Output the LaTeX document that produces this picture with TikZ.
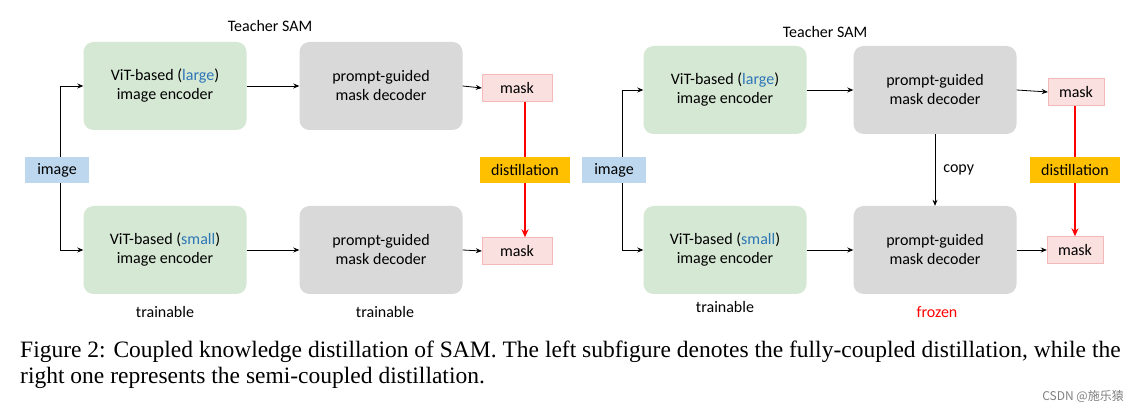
\documentclass[tikz,border=0pt]{standalone}
\usepackage{fontspec}
\setmainfont{Carlito}
\newfontfamily\capfont{Liberation Serif}
\newfontfamily\cjk{Noto Sans CJK SC}
\usetikzlibrary{arrows.meta}
\definecolor{gfill}{HTML}{D5E8D4}
\definecolor{kfill}{HTML}{D9D9D9}
\definecolor{mfill}{HTML}{FBE0E0}
\definecolor{mborder}{HTML}{F4B8B8}
\definecolor{ifill}{HTML}{BDD7EE}
\definecolor{dfill}{HTML}{FFC000}
\definecolor{bluet}{HTML}{2E75B6}
\definecolor{redarr}{HTML}{FF0000}
\begin{document}
\begin{tikzpicture}[x=1pt,y=-1pt,
  every node/.style={font=\fontsize{16}{19}\selectfont, align=center, inner sep=0pt},
  enc/.style={fill=gfill, rounded corners=10pt, minimum width=163pt, minimum height=88pt},
  dec/.style={fill=kfill, rounded corners=10pt, minimum width=163pt, minimum height=88pt},
  mask/.style={fill=mfill, draw=mborder, minimum width=70pt, minimum height=27pt},
  img/.style={fill=ifill, minimum width=64pt, minimum height=26pt},
  dist/.style={fill=dfill, minimum width=90pt, minimum height=26pt},
  arr/.style={-{Stealth[length=6pt,width=5pt]}, line width=0.8pt},
  rarr/.style={draw=redarr, -{Stealth[length=8pt,width=7pt,fill=redarr]}, line width=1.3pt}]
\useasboundingbox (0,0) rectangle (1138,411);
\fill[white] (0,0) rectangle (1138,411);
% left
\node at (270,26) {Teacher SAM};
\node[img] (imgL) at (57,170) {image};
\node[enc] (e1) at (165,86) {ViT-based (\textcolor{bluet}{large})\\image encoder};
\node[dec] (d1) at (381,86) {prompt-guided\\mask decoder};
\node[mask] (m1) at (517,88) {mask};
\node[enc] (e2) at (165,250) {ViT-based (\textcolor{bluet}{small})\\image encoder};
\node[dec] (d2) at (381,250) {prompt-guided\\mask decoder};
\node[mask] (m2) at (517,251) {mask};
\node[dist] (dL) at (525,170) {distillation};
\node at (165,312) {trainable};
\node at (385,312) {trainable};
\coordinate (jL) at (60,170);
\draw[arr] (imgL.north -| jL) |- (e1.west);
\draw[arr] (imgL.south -| jL) |- (e2.west);
\draw[arr] (e1) -- (d1);
\draw[arr] (e2) -- (d2);
\draw[arr] (d1.east) -- (m1.west);
\draw[arr] (d2.east) -- (m2.west);
\draw[rarr] (m1.south -| dL) -- (m2.north -| dL);
\node[dist] at (525,170) {distillation};
% right
\node at (825,32) {Teacher SAM};
\node[img] (imgR) at (614,170) {image};
\node[enc] (e3) at (725,90) {ViT-based (\textcolor{bluet}{large})\\image encoder};
\node[dec] (d3) at (935,90) {prompt-guided\\mask decoder};
\node[mask, minimum width=56pt] (m3) at (1076,92) {mask};
\node[enc] (e4) at (725,250) {ViT-based (\textcolor{bluet}{small})\\image encoder};
\node[dec] (d4) at (935,250) {prompt-guided\\mask decoder};
\node[mask, minimum width=56pt] (m4) at (1075,250) {mask};
\node[dist] (dR) at (1075,170) {distillation};
\node at (725,307) {trainable};
\node[red] at (937,312) {frozen};
\coordinate (jR) at (622,170);
\draw[arr] (imgR.north -| jR) |- (e3.west);
\draw[arr] (imgR.south -| jR) |- (e4.west);
\draw[arr] (e3) -- (d3);
\draw[arr] (e4) -- (d4);
\draw[arr] (d3.east) -- (m3.west);
\draw[arr] (d4.east) -- (m4.west);
\draw[arr] (d3) -- node[right=8pt]{copy} (d4);
\draw[rarr] (m3.south -| dR) -- (m4.north -| dR);
\node[dist] at (1075,170) {distillation};
% caption
\node[anchor=west, align=left, font=\capfont\fontsize{23.5}{26}\selectfont] (cap) at (20,365)
 {Figure 2: Coupled knowledge distillation of SAM. The left subfigure denotes the fully-coupled distillation, while the\\right one represents the semi-coupled distillation.};
\node[anchor=east, font=\cjk\fontsize{12}{14}\selectfont, text=gray] (wm) at (1124,396) {CSDN @施乐猿};
\end{tikzpicture}
\end{document}
